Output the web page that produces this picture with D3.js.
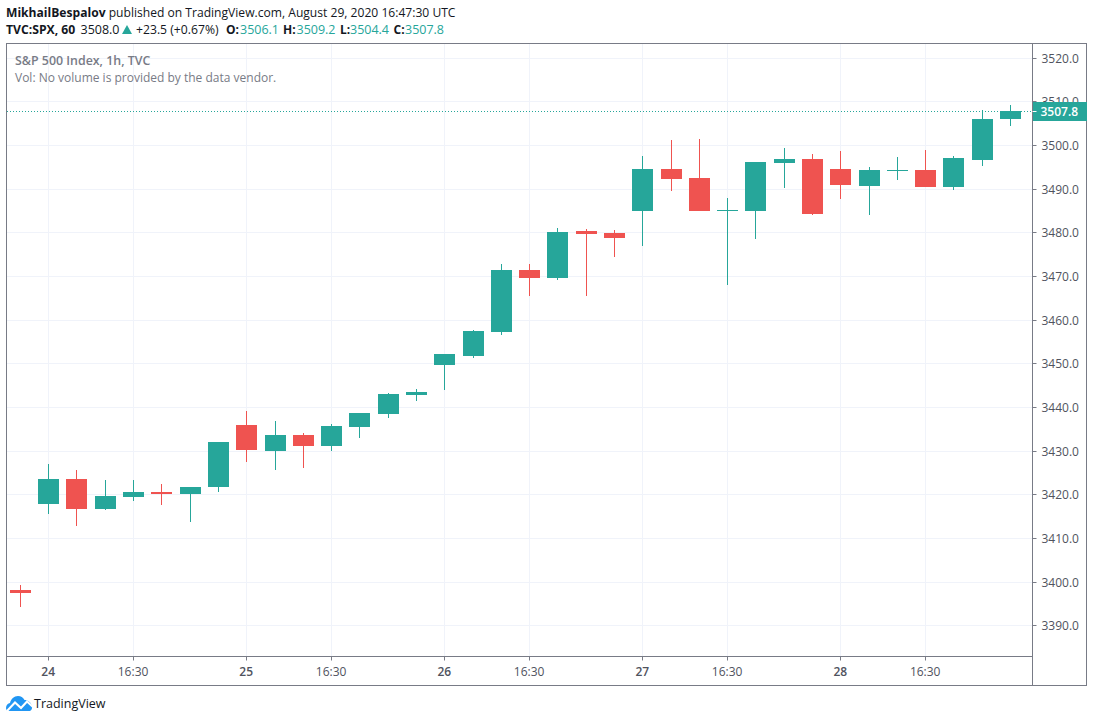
<!DOCTYPE html>
<html lang="en">
<head>
<meta charset="UTF-8">
<title>S&amp;P 500 Index, 1h, TVC</title>
<script src="https://cdnjs.cloudflare.com/ajax/libs/d3/7.8.2/d3.min.js"></script>
<style>
    html, body { margin: 0; padding: 0; background: #fff; overflow: hidden; }
    svg { display: block; }
    text { font-family: "Open Sans", "Noto Sans", sans-serif; }
</style>
</head>
<body>
<svg id="chart" width="1093" height="722"></svg>
<script>
// one entry per hourly bar
const barTimes = [
    "21 19:30",
    "24 13:30", "24 14:30", "24 15:30", "24 16:30", "24 17:30", "24 18:30", "24 19:30",
    "25 13:30", "25 14:30", "25 15:30", "25 16:30", "25 17:30", "25 18:30", "25 19:30",
    "26 13:30", "26 14:30", "26 15:30", "26 16:30", "26 17:30", "26 18:30", "26 19:30",
    "27 13:30", "27 14:30", "27 15:30", "27 16:30", "27 17:30", "27 18:30", "27 19:30",
    "28 13:30", "28 14:30", "28 15:30", "28 16:30", "28 17:30", "28 18:30", "28 19:30"
];
const opens = [
    3398.2, 3417.9, 3423.7, 3416.8, 3419.5, 3420.7, 3420.2, 3421.8,
    3436.0, 3430.1, 3433.7, 3431.2, 3435.6, 3438.5, 3442.9,
    3449.8, 3451.8, 3457.3, 3471.5, 3469.7, 3480.4, 3480.0,
    3485.0, 3494.6, 3492.6, 3485.0, 3485.0, 3496.0, 3496.9,
    3494.6, 3490.8, 3494.2, 3494.4, 3490.5, 3496.7, 3506.1
];
const highs = [
    3399.4, 3427.1, 3425.7, 3423.4, 3423.4, 3422.5, 3421.8, 3432.1,
    3439.2, 3436.9, 3434.2, 3436.3, 3438.8, 3443.3, 3444.3,
    3452.3, 3457.8, 3472.9, 3472.9, 3481.1, 3480.9, 3480.7,
    3497.6, 3501.3, 3501.5, 3488.0, 3496.2, 3499.4, 3498.1,
    3498.8, 3495.1, 3497.4, 3499.0, 3497.6, 3508.2, 3509.2
];
const lows = [
    3394.4, 3415.6, 3412.9, 3416.6, 3418.6, 3417.7, 3413.8, 3420.7,
    3427.6, 3425.7, 3426.2, 3430.1, 3433.0, 3437.6, 3441.5,
    3444.0, 3451.4, 3456.6, 3465.6, 3469.2, 3465.6, 3474.5,
    3477.0, 3489.6, 3485.0, 3468.0, 3478.6, 3490.3, 3484.1,
    3487.8, 3484.1, 3492.1, 3490.5, 3489.8, 3495.3, 3504.4
];
const closes = [
    3397.6, 3423.7, 3416.8, 3419.8, 3420.7, 3420.2, 3421.8, 3432.1,
    3430.3, 3433.7, 3431.2, 3435.8, 3438.8, 3443.1, 3443.6,
    3452.3, 3457.5, 3471.5, 3469.7, 3480.2, 3479.7, 3478.8,
    3494.6, 3492.4, 3485.0, 3485.2, 3496.2, 3496.9, 3484.3,
    3491.0, 3494.4, 3494.4, 3490.5, 3497.2, 3506.1, 3507.8
];
const priceTicks = [3390, 3400, 3410, 3420, 3430, 3440, 3450, 3460, 3470, 3480, 3490, 3500, 3510, 3520];
const timeTicks = ["24 13:30", "24 16:30", "25 13:30", "25 16:30", "26 13:30", "26 16:30", "27 13:30", "27 16:30", "28 13:30", "28 16:30"];
const timeTickLabels = ["24", "16:30", "25", "16:30", "26", "16:30", "27", "16:30", "28", "16:30"];
const lastPrice = 3507.8;

const green = "#26a69a", red = "#ef5350", gridColor = "#f0f3fa", frameColor = "#787b86", axisText = "#50535e";
const paneLeft = 6.5, paneRight = 1032.5, outerRight = 1086.5, paneTop = 43.5, paneBottom = 656.5, outerBottom = 685.5;
const bodyWidth = 21;

const svg = d3.select("#chart");

const x = d3.scalePoint().domain(barTimes).range([20.4, 1010.55]);
const y = d3.scaleLinear().domain([3400, 3520]).range([582.3, 58.3]);
const snap = v => Math.floor(v) + 0.5;
const py = v => Math.round(y(v) - 0.1);

// grid
svg.append("g").selectAll("line").data(priceTicks).enter().append("line")
    .attr("x1", paneLeft).attr("x2", paneRight)
    .attr("y1", d => snap(y(d))).attr("y2", d => snap(y(d)))
    .attr("stroke", gridColor);
svg.append("g").selectAll("line").data(timeTicks).enter().append("line")
    .attr("x1", d => snap(x(d))).attr("x2", d => snap(x(d)))
    .attr("y1", paneTop).attr("y2", paneBottom)
    .attr("stroke", gridColor);

// legend inside the pane
svg.append("text").attr("x", 15).attr("y", 65)
    .attr("font-size", 12.4).attr("font-weight", 600).attr("fill", "#787b86")
    .text("S&P 500 Index, 1h, TVC");
svg.append("text").attr("x", 15).attr("y", 82)
    .attr("font-size", 12).attr("fill", "#787b86")
    .text("Vol: No volume is provided by the data vendor.");

// last price line goes under the candles, starts on a whole pixel so the dots stay sharp
svg.append("line")
    .attr("x1", Math.ceil(paneLeft)).attr("x2", Math.floor(paneRight))
    .attr("y1", snap(y(lastPrice))).attr("y2", snap(y(lastPrice)))
    .attr("stroke", green).attr("stroke-dasharray", "1 2");

// candles
const candles = svg.append("g").selectAll("g").data(barTimes).enter().append("g")
    .attr("fill", (d, i) => closes[i] >= opens[i] ? green : red);
candles.append("rect")
    .attr("x", d => Math.floor(x(d)))
    .attr("width", 1)
    .attr("y", (d, i) => py(highs[i]))
    .attr("height", (d, i) => py(lows[i]) - py(highs[i]));
candles.append("rect")
    .attr("x", d => Math.floor(x(d)) - 10)
    .attr("width", bodyWidth)
    .attr("y", (d, i) => py(Math.max(opens[i], closes[i])))
    .attr("height", (d, i) => Math.max(1, py(Math.min(opens[i], closes[i])) - py(Math.max(opens[i], closes[i]))));

// price axis
const yAxis = svg.append("g")
    .attr("transform", `translate(${paneRight},0)`)
    .call(d3.axisRight(y).tickValues(priceTicks).tickFormat(d3.format(".1f")).tickSize(4).tickPadding(5));
yAxis.select(".domain").remove();
yAxis.selectAll("line").attr("stroke", frameColor)
    .attr("transform", d => `translate(0,${snap(y(d)) - y(d) - 0.5})`);
yAxis.selectAll("text").attr("fill", axisText).attr("font-size", 12).attr("font-family", null);

// time axis
const timeLabelByTick = d3.scaleOrdinal().domain(timeTicks).range(timeTickLabels);
const xAxis = svg.append("g")
    .attr("transform", `translate(0,${paneBottom})`)
    .call(d3.axisBottom(x).tickValues(timeTicks).tickFormat(timeLabelByTick).tickSize(4).tickPadding(7));
xAxis.select(".domain").remove();
xAxis.selectAll("line").attr("stroke", frameColor)
    .attr("transform", d => `translate(${snap(x(d)) - x(d) - 0.5},0)`);
xAxis.selectAll("text").attr("fill", axisText).attr("font-size", 12).attr("font-family", null)
    .attr("x", -1)
    .attr("font-weight", d => timeLabelByTick(d) === "16:30" ? 400 : 600);

// frames
const frames = svg.append("g").attr("fill", "none").attr("stroke", frameColor);
frames.append("rect").attr("x", paneLeft).attr("y", paneTop).attr("width", outerRight - paneLeft).attr("height", outerBottom - paneTop);
frames.append("line").attr("x1", paneRight).attr("x2", paneRight).attr("y1", paneTop).attr("y2", outerBottom);
frames.append("line").attr("x1", paneLeft).attr("x2", paneRight).attr("y1", paneBottom).attr("y2", paneBottom);

// last price tag
svg.append("rect")
    .attr("x", paneRight + 0.5).attr("y", py(lastPrice) - 9)
    .attr("width", outerRight - paneRight).attr("height", 19)
    .attr("fill", green);
svg.append("line")
    .attr("x1", paneRight).attr("x2", paneRight + 4)
    .attr("y1", snap(y(lastPrice))).attr("y2", snap(y(lastPrice)))
    .attr("stroke", "#fff");
svg.append("text")
    .attr("x", paneRight + 8).attr("y", y(lastPrice) + 4.5)
    .attr("font-size", 12).attr("font-weight", 600).attr("fill", "#fff")
    .text(d3.format(".1f")(lastPrice));

// header, two lines
const line1 = svg.append("text").attr("x", 6).attr("y", 17).attr("font-size", 12.1).attr("fill", "#131722");
line1.append("tspan").attr("font-weight", 700).text("MikhailBespalov");
line1.append("tspan").text(" published on TradingView.com, August 29, 2020 16:47:30 UTC");

const header2 = [
    { x: 6, text: "TVC:SPX, 60", weight: 700, fill: "#131722", size: 12.2 },
    { x: 80.5, text: "3508.0", weight: 400, fill: "#131722", size: 12.5 },
    { x: 136, text: "+23.5 (+0.67%)", weight: 400, fill: "#131722", size: 12.2 },
    { x: 226, text: "O:", weight: 700, fill: "#131722", size: 12 },
    { x: 240, text: "3506.1", weight: 400, fill: green, size: 12.5 },
    { x: 283, text: "H:", weight: 700, fill: "#131722", size: 12 },
    { x: 296.5, text: "3509.2", weight: 400, fill: green, size: 12.5 },
    { x: 340, text: "L:", weight: 700, fill: "#131722", size: 12 },
    { x: 350, text: "3504.4", weight: 400, fill: green, size: 12.5 },
    { x: 393.5, text: "C:", weight: 700, fill: "#131722", size: 12 },
    { x: 405, text: "3507.8", weight: 400, fill: green, size: 12.5 }
];
svg.append("g").selectAll("text").data(header2).enter().append("text")
    .attr("x", d => d.x).attr("y", 34)
    .attr("font-size", d => d.size)
    .attr("font-weight", d => d.weight).attr("fill", d => d.fill)
    .text(d => d.text);
svg.append("path").attr("d", "M122,34 L132,34 L127,25 Z").attr("fill", green);

// TradingView logo
const logo = svg.append("g").attr("transform", "translate(6,696)");
logo.append("path").attr("fill", "#2196f3")
    .attr("d", "M0,12 C0,9 2,7.5 4,7 C5,3 8,0 12,0 C15,0 17,1.5 18.5,4 C22,4 25,6.5 26,10 C26.5,13 25,15 23,15 L3,15 C1,15 0,14 0,12 Z");
logo.append("path").attr("fill", "none").attr("stroke", "#fff").attr("stroke-width", 2)
    .attr("d", "M1,15 L9,6.5 L15,12 L21,5.5 L27,11");
svg.append("text").attr("x", 34).attr("y", 708).attr("font-size", 12.5).attr("fill", "#131722").text("TradingView");
</script>
</body>
</html>
